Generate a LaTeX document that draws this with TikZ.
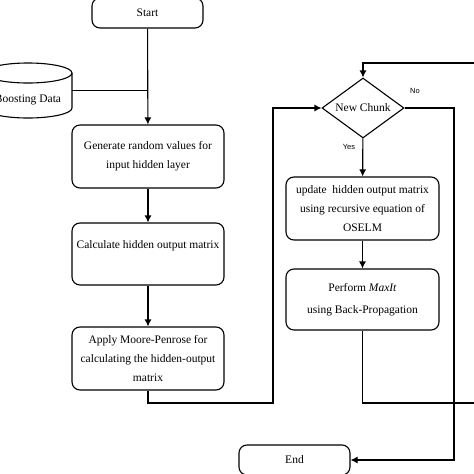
\documentclass[tikz,border=0pt]{standalone}
\usepackage{fontspec}
\setmainfont{Liberation Serif}
\newfontfamily\yesnofont{Liberation Sans}
\usepackage{tikz}
\usetikzlibrary{arrows.meta, calc, positioning, shapes}
\tikzset{
    mybox/.style={draw,rounded corners=8pt,align=center,line width=1.1pt,
        font=\fontsize{11.5}{19}\selectfont},
    myarrow/.style={line width=1.1pt,-{Latex[length=7pt,width=7pt]}},
    myline/.style={line width=1.1pt}
}

\begin{document}
\begin{tikzpicture}[x=10pt,y=-10pt]
\tikzset{
    mylabel/.style={font=\yesnofont\fontsize{7.5}{9}\selectfont},
    mytext/.style={font=\fontsize{11.5}{14}\selectfont}
}
  \useasboundingbox (0,0) rectangle (47.4,47.4);
  % data store
  \draw[myline] (2.8,7.3) ellipse[x radius=4.4,y radius=1.0];
  \draw[myline] (-1.6,7.3) -- (-1.6,10.8) arc[start angle=180,end angle=0,x radius=4.4,y radius=1.0] -- (7.2,7.3);
  \node[mytext] (data) at (2.8,10.0) {Boosting Data};
  \coordinate (dataeast) at (7.2,9.05);
  \node[mybox,minimum width=111pt,minimum height=30pt] (start) at (14.75,1.3) {Start};
  \node[mybox,minimum width=152pt,minimum height=63pt] (gen) at (14.8,15.65) {Generate random values for\\ input hidden layer};
  \node[mybox,minimum width=152pt,minimum height=62pt] (calc) at (14.8,25.4) {Calculate hidden output matrix\\ ~};
  \node[mybox,minimum width=152pt,minimum height=63pt] (apply) at (14.8,35.85) {Apply Moore-Penrose for\\ calculating the hidden-output\\ matrix};
  \node[draw,diamond,aspect=1.37,inner sep=0pt,line width=1.1pt,minimum width=82pt,minimum height=60pt,
        mytext] (chunk) at (36.3,10.8) {New Chunk};
  \node[mybox,minimum width=153pt,minimum height=63pt] (upd) at (36.25,20.85) {update\ \ hidden output matrix\\ using recursive equation of\\ OSELM};
  \node[mybox,minimum width=153pt,minimum height=61pt] (perf) at (36.25,29.95) {Perform \textit{MaxIt}\\[3pt] using Back-Propagation};
  \node[mybox,minimum width=111pt,minimum height=30pt] (end) at (29.45,46.0) {End};
  \node[mylabel] (yes) at (34.9,14.7) {Yes};
  \node[mylabel] (no) at (41.5,9.1) {No};
  \coordinate (loopl) at (27.3,40.3);
  \coordinate (loopr) at (49,40.3);
  \coordinate (looptop) at (49,6.3);
  \coordinate (nocorner) at (45.4,46.0);
  \draw[myarrow] (start) -- (gen);
  \draw[myline] (dataeast) -- (dataeast -| start);
  \draw[myarrow] (gen) -- (calc);
  \draw[myarrow] (calc) -- (apply);
  \draw[myarrow] (apply.south) |- (loopl) |- (chunk.west);
  \draw[myarrow] (chunk) -- (upd);
  \draw[myarrow] (upd) -- (perf);
  \draw[myarrow] (perf.south) |- (loopr) -- (looptop) -| (chunk.north);
  \draw[myarrow] (chunk.east) -| (nocorner) -- (end.east);
\end{tikzpicture}
\end{document}
